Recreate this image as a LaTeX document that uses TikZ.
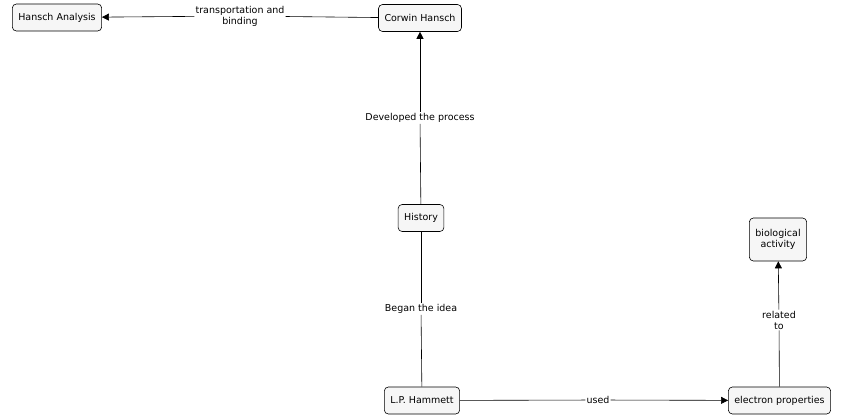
\documentclass[tikz,border=0pt]{standalone}
\usepackage{fontspec}
\setmainfont{DejaVu Sans}
\usetikzlibrary{arrows.meta}
\begin{document}
\begin{tikzpicture}[x=1pt,y=-1pt,
  concept/.style={draw=black,fill=cyan!4!gray!8,rounded corners=4pt,inner xsep=6pt,inner ysep=0pt,minimum height=27pt,align=center,font=\fontsize{9.5}{11}\selectfont},
  lbl/.style={inner sep=1pt,align=center,font=\fontsize{9.5}{11}\selectfont},
  arr/.style={-{Triangle[length=7pt,width=7pt]}},
  line width=0.6pt]
\useasboundingbox (0,0) rectangle (846,417);
\node[concept] (ha) at (57,17.5) {Hansch Analysis};
\node[concept] (ch) at (420,18) {Corwin Hansch};
\node[concept] (hi) at (421,218) {History};
\node[concept] (lp) at (422,400.5) {L.P. Hammett};
\node[concept] (ep) at (779.5,400.5) {electron properties};
\node[concept,minimum height=43pt] (ba) at (778,239.5) {biological\\activity};
\node[lbl] (l1) at (240,16) {transportation and\\binding};
\node[lbl] (l2) at (420,118) {Developed the process};
\node[lbl] (l3) at (421,309) {Began the idea};
\node[lbl] (l4) at (598,400) {used};
\node[lbl] (l5) at (779,320) {related\\to};
\draw (ch) -- (l1); \draw[arr] (l1) -- (ha);
\draw (hi) -- (l2); \draw[arr] (l2) -- (ch);
\draw (lp) -- (l3); \draw (l3) -- (hi);
\draw (lp) -- (l4); \draw[arr] (l4) -- (ep);
\draw (ep) -- (l5); \draw[arr] (l5) -- (ba);
\end{tikzpicture}
\end{document}
